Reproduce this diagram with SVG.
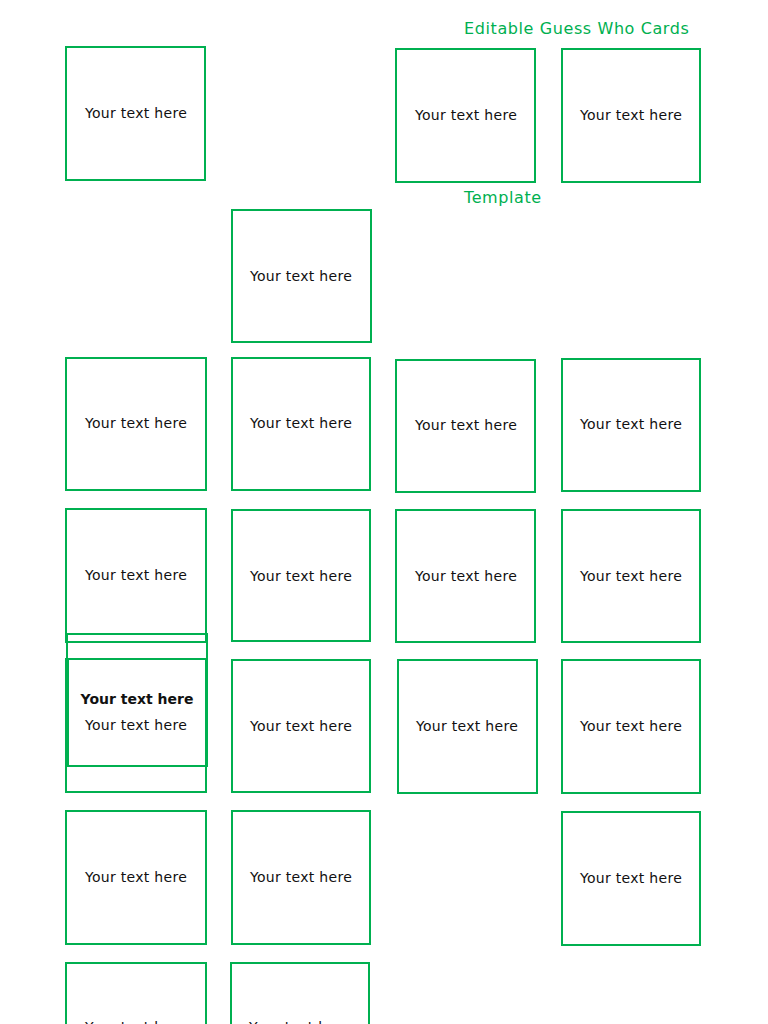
<svg xmlns="http://www.w3.org/2000/svg" width="768" height="1024" viewBox="0 0 768 1024">
<style>
rect{fill:none;stroke:#00b050;stroke-width:2}
text{font-family:"DejaVu Sans",sans-serif;font-size:14px;fill:#111;text-anchor:middle;letter-spacing:0.3px}
.t{fill:#00b050;font-size:16px;text-anchor:start;letter-spacing:0.6px}
</style>
<rect width="768" height="1024" fill="#fff" style="fill:#fff;stroke:none"/>
<text class="t" x="464" y="34">Editable Guess Who Cards</text>
<text class="t" x="464" y="203">Template</text>
<g id="c1"><rect x="66" y="47" width="139" height="133"/><text x="136" y="118">Your text here</text></g>
<g id="c2"><rect x="396" y="49" width="139" height="133"/><text x="466" y="120">Your text here</text></g>
<g id="c3"><rect x="562" y="49" width="138" height="133"/><text x="631" y="120">Your text here</text></g>
<g id="c4"><rect x="232" y="210" width="139" height="132"/><text x="301" y="281">Your text here</text></g>
<g id="c5"><rect x="66" y="358" width="140" height="132"/><text x="136" y="428">Your text here</text></g>
<g id="c6"><rect x="232" y="358" width="138" height="132"/><text x="301" y="428">Your text here</text></g>
<g id="c7"><rect x="396" y="360" width="139" height="132"/><text x="466" y="430">Your text here</text></g>
<g id="c8"><rect x="562" y="359" width="138" height="132"/><text x="631" y="429">Your text here</text></g>
<g id="c9"><rect x="66" y="509" width="140" height="133"/><text x="136" y="580">Your text here</text></g>
<g id="c10"><rect x="232" y="510" width="138" height="131"/><text x="301" y="581">Your text here</text></g>
<g id="c11"><rect x="396" y="510" width="139" height="132"/><text x="466" y="581">Your text here</text></g>
<g id="c12"><rect x="562" y="510" width="138" height="132"/><text x="631" y="581">Your text here</text></g>
<g id="c13"><rect x="66" y="659" width="140" height="133"/><text x="136" y="730">Your text here</text></g>
<g id="c13b"><rect x="67" y="634" width="140" height="132"/><rect x="68" y="659" width="138" height="107"/><text x="137" y="704" style="font-weight:bold;letter-spacing:0">Your text here</text></g>
<g id="c14"><rect x="232" y="660" width="138" height="132"/><text x="301" y="731">Your text here</text></g>
<g id="c15"><rect x="398" y="660" width="139" height="133"/><text x="467" y="731">Your text here</text></g>
<g id="c16"><rect x="562" y="660" width="138" height="133"/><text x="631" y="731">Your text here</text></g>
<g id="c17"><rect x="66" y="811" width="140" height="133"/><text x="136" y="882">Your text here</text></g>
<g id="c18"><rect x="232" y="811" width="138" height="133"/><text x="301" y="882">Your text here</text></g>
<g id="c19"><rect x="562" y="812" width="138" height="133"/><text x="631" y="883">Your text here</text></g>
<g id="c20"><rect x="66" y="963" width="140" height="133"/><text x="136" y="1032">Your text here</text></g>
<g id="c21"><rect x="231" y="963" width="138" height="133"/><text x="300" y="1032">Your text here</text></g>
</svg>
